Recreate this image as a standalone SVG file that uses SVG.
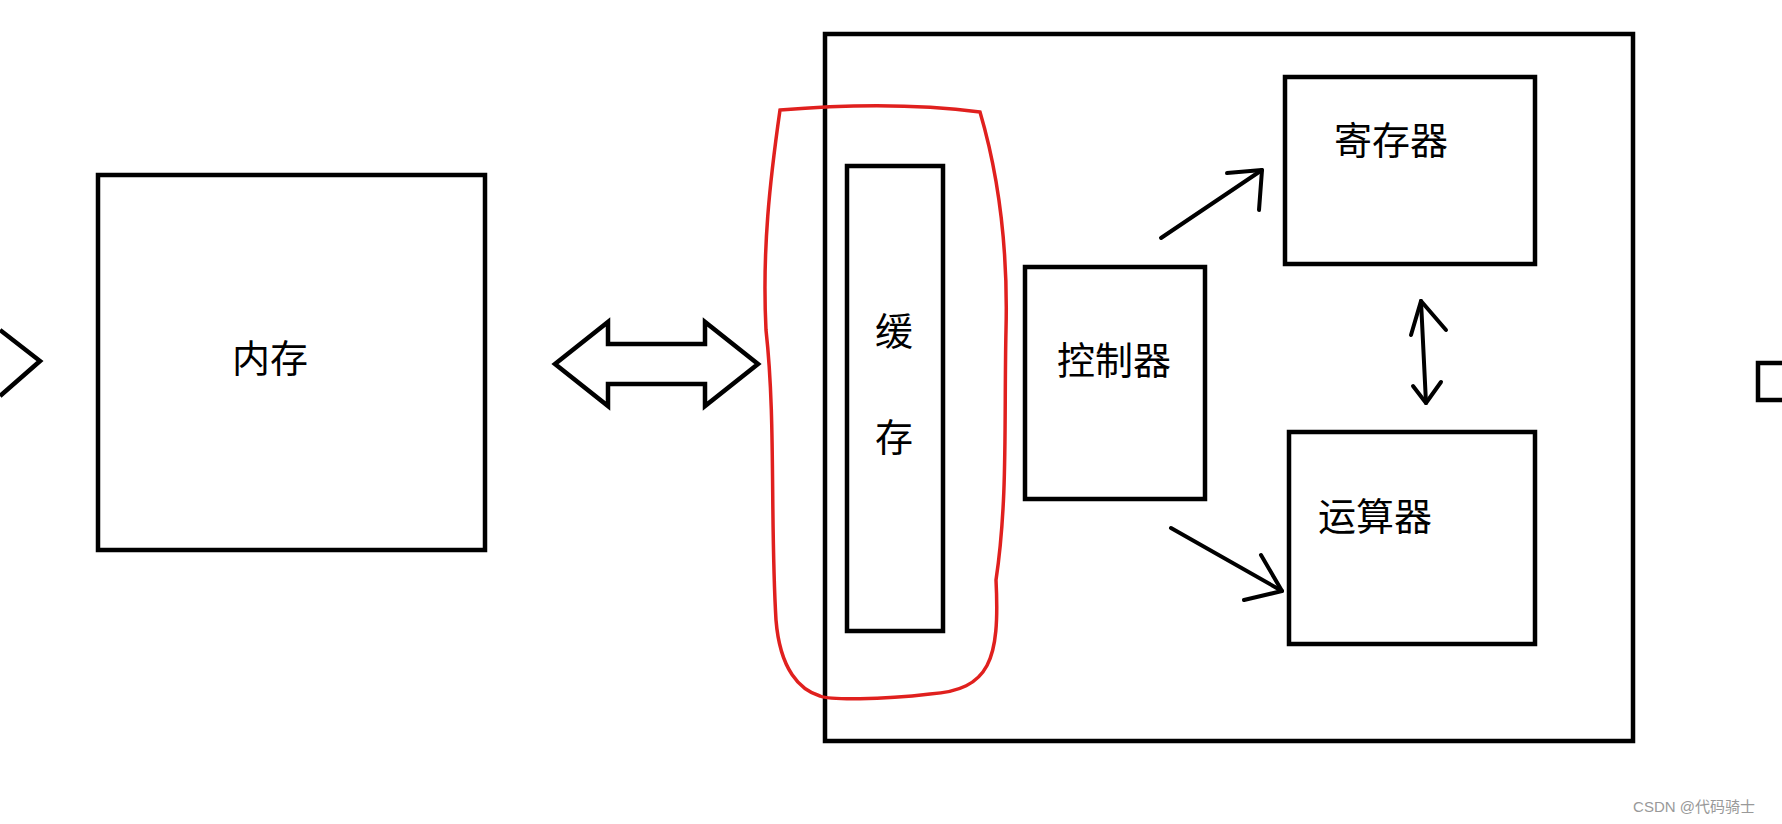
<svg xmlns="http://www.w3.org/2000/svg" width="1782" height="824" viewBox="0 0 1782 824">
<style>
.b{fill:none;stroke:#000;stroke-width:4.5;stroke-linejoin:miter}
.l{fill:none;stroke:#000;stroke-width:4;stroke-linecap:round;stroke-linejoin:round}
.t{font-family:"Liberation Serif","Noto Sans CJK SC",serif;font-size:38px;fill:#000;text-anchor:middle;dominant-baseline:central}
</style>
<rect width="1782" height="824" fill="#fff"/>
<g id="left-partial"><polyline class="b" points="0,330 40,361 0,396"/></g>
<g id="neicun"><rect class="b" x="98" y="175" width="387" height="375"/><text class="t" x="270" y="359">内存</text></g>
<g id="cpu"><rect class="b" x="825" y="34" width="808" height="707"/></g>
<g id="highlight"><path d="M780,110 C850,104 920,104 980,112 C1000,180 1008,250 1006,330 C1004,420 1008,500 996,580 C1000,660 990,690 930,694 C880,700 830,700 820,696 C800,690 780,670 776,620 C770,520 776,420 766,330 C762,250 770,180 780,110 Z" fill="none" stroke="#e0201e" stroke-width="3.5"/></g>
<g id="huancun"><rect class="b" x="847" y="166" width="96" height="465"/><text class="t" x="894" y="332">缓</text><text class="t" x="894" y="438">存</text></g>
<g id="kongzhiqi"><rect class="b" x="1025" y="267" width="180" height="232"/><text class="t" x="1114" y="361">控制器</text></g>
<g id="jicunqi"><rect class="b" x="1285" y="77" width="250" height="187"/><text class="t" x="1391" y="141">寄存器</text></g>
<g id="yunsuanqi"><rect class="b" x="1289" y="432" width="246" height="212"/><text class="t" x="1375" y="517">运算器</text></g>
<g id="right-partial"><rect class="b" x="1758" y="363" width="30" height="37"/></g>
<g id="connectors">
<polygon class="b" points="555,364 608,322 608,344 705,344 705,322 758,364 705,406 705,384 608,384 608,406"/>
<polyline class="l" points="1161,238 1262,170"/>
<polyline class="l" points="1227,173 1262,170 1259,210"/>
<polyline class="l" points="1171,528 1282,591"/>
<polyline class="l" points="1261,555 1282,591 1244,600"/>
<polyline class="l" points="1421,301 1426,403"/>
<polyline class="l" points="1411,335 1421,301 1446,330"/>
<polyline class="l" points="1413,386 1426,403 1441,382"/>
</g>
<text x="1694" y="806" font-family="Liberation Sans,Noto Sans CJK SC,sans-serif" font-size="15" fill="#999" text-anchor="middle" dominant-baseline="central">CSDN @代码骑士</text>
</svg>
